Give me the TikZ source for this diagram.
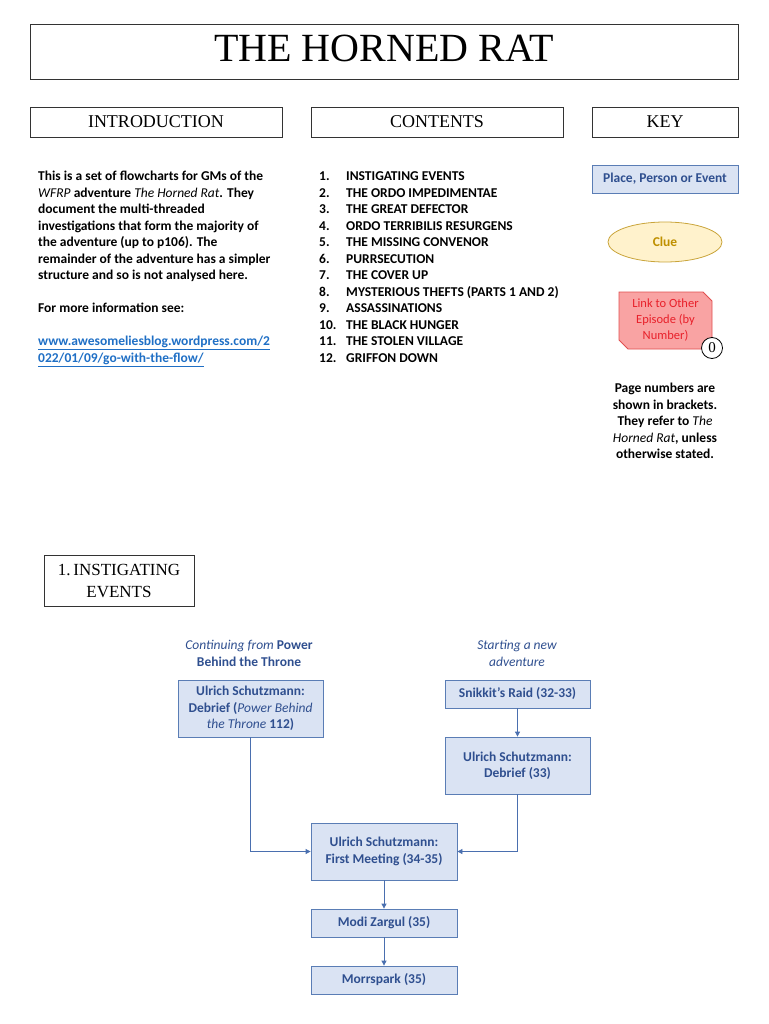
\documentclass[tikz,border=0pt]{standalone}
\usepackage{fontspec}
\setmainfont{Carlito}
\newfontfamily\titlefont{Liberation Serif}
\usetikzlibrary{shapes.geometric,arrows.meta}
\definecolor{boxfill}{HTML}{DAE3F3}
\definecolor{boxdraw}{HTML}{5A7DB5}
\definecolor{boxtext}{HTML}{2F4F8F}
\definecolor{arrowc}{HTML}{4A6FAF}
\definecolor{cluefill}{HTML}{FFF2CC}
\definecolor{cluedraw}{HTML}{C9A43A}
\definecolor{cluetext}{HTML}{BF9000}
\definecolor{linkfill}{HTML}{F9A3A3}
\definecolor{linkdraw}{HTML}{E05050}
\definecolor{linktext}{HTML}{E8202A}
\definecolor{urlc}{HTML}{1F6FC5}
\tikzset{
  header/.style={draw=black!80, line width=0.8pt, inner sep=0pt, font=\titlefont\fontsize{18}{20}\selectfont},
  place/.style={draw=boxdraw, fill=boxfill, line width=0.8pt, inner sep=0pt, align=center, text=boxtext, font=\fontsize{13.5}{16.3}\selectfont\bfseries},
  flow/.style={-{Triangle[length=5pt,width=5pt]}, draw=arrowc, line width=0.8pt},
  body/.style={font=\fontsize{13.5}{16.5}\selectfont\bfseries, inner sep=0pt},
  lab/.style={text=boxtext, align=center, font=\fontsize{13.5}{16.8}\selectfont\bfseries}
}
\begin{document}
\begin{tikzpicture}[x=1pt,y=-1pt]
\useasboundingbox (0,0) rectangle (768,1024);
% title
\node[header, minimum width=708pt, minimum height=55pt] (title) at (384,51.5) {};
\node[font=\titlefont\fontsize{40}{44}\selectfont, inner sep=0pt] (titletext) at (384,48) {THE HORNED RAT};
\node[header, minimum width=252pt, minimum height=30pt] (intro) at (156,122) {INTRODUCTION};
\node[header, minimum width=252pt, minimum height=30pt] (contents) at (437,122) {CONTENTS};
\node[header, minimum width=146pt, minimum height=30pt] (key) at (665,122) {KEY};
% intro text
\node[body, anchor=north west, align=left] (introtext) at (38,169) {%
\strut This is a set of flowcharts for GMs of the\\
{\itshape\mdseries WFRP} adventure {\itshape\mdseries The Horned Rat}. They\\
document the multi-threaded\\
investigations that form the majority of\\
the adventure (up to p106). The\\
remainder of the adventure has a simpler\\
structure and so is not analysed here.\\[16.5pt]
For more information see:\\[16.5pt]
{\color{urlc}\underline{www.awesomeliesblog.wordpress.com/2}}\\
{\color{urlc}\underline{022/01/09/go-with-the-flow/}}};
% contents
\node[body, anchor=north west, align=left] (contnum) at (319,169) {%
\strut 1.\\2.\\3.\\4.\\5.\\6.\\7.\\8.\\9.\\10.\\11.\\12.};
\node[body, anchor=north west, align=left] (conttext) at (346,169) {%
\strut INSTIGATING EVENTS\\
THE ORDO IMPEDIMENTAE\\
THE GREAT DEFECTOR\\
ORDO TERRIBILIS RESURGENS\\
THE MISSING CONVENOR\\
PURRSECUTION\\
THE COVER UP\\
MYSTERIOUS THEFTS (PARTS 1 AND 2)\\
ASSASSINATIONS\\
THE BLACK HUNGER\\
THE STOLEN VILLAGE\\
GRIFFON DOWN};
% key
\node[place, minimum width=146pt, minimum height=28pt] (keyplace) at (665,179) {Place, Person or Event};
\node[ellipse, draw=cluedraw, fill=cluefill, line width=0.8pt, minimum width=114pt, minimum height=40pt, text=cluetext, font=\fontsize{13.5}{15}\selectfont\bfseries] (keyclue) at (665,242) {Clue};
\fill[linkfill] (619,292) -- (703,292) -- (712,301) -- (712,349) -- (628,349) -- (619,340) -- cycle;
\draw[linkdraw, line width=0.8pt] (619,292) -- (703,292) -- (712,301) -- (712,349) -- (628,349) -- (619,340) -- cycle;
\node[align=center, text=linktext, font=\fontsize{12.5}{16}\selectfont] (keylink) at (665.5,320) {Link to Other\\Episode (by\\Number)};
\node[circle, draw=black, fill=white, line width=0.8pt, minimum size=21pt, inner sep=0pt, font=\titlefont\fontsize{15}{15}\selectfont] (keynum) at (712,348) {0};
\node[body, align=center] (pagenote) at (665,421) {Page numbers are\\shown in brackets.\\They refer to {\itshape\mdseries The}\\{\itshape\mdseries Horned Rat}, unless\\otherwise stated.};
% section header
\node[header, minimum width=150pt, minimum height=51pt, align=center, font=\titlefont\fontsize{17}{22}\selectfont] (sec1) at (119,580.5) {1.\,INSTIGATING\\EVENTS};
% flow
\node[lab] (labA) at (249,653.5) {{\itshape\mdseries Continuing from} Power\\Behind the Throne};
\node[lab] (labB) at (517,653.5) {{\itshape\mdseries Starting a new}\\{\itshape\mdseries adventure}};
\node[place, minimum width=145pt, minimum height=57pt] (A) at (250.5,708.5) {Ulrich Schutzmann:\\Debrief ({\itshape\mdseries Power Behind}\\{\itshape\mdseries the Throne} 112)};
\node[place, minimum width=145pt, minimum height=28pt] (B) at (517.5,694) {Snikkit's Raid (32-33)};
\node[place, minimum width=145pt, minimum height=57pt] (C) at (517.5,765.5) {Ulrich Schutzmann:\\Debrief (33)};
\node[place, minimum width=146pt, minimum height=57pt] (D) at (384,851.5) {Ulrich Schutzmann:\\First Meeting (34-35)};
\node[place, minimum width=146pt, minimum height=28pt] (E) at (384,923) {Modi Zargul (35)};
\node[place, minimum width=146pt, minimum height=28pt] (F) at (384,980) {Morrspark (35)};
\draw[flow] (B) -- (C);
\draw[flow] (A.south) |- (D.west);
\draw[flow] (C.south) |- (D.east);
\draw[flow] (D) -- (E);
\draw[flow] (E) -- (F);
\end{tikzpicture}
\end{document}
